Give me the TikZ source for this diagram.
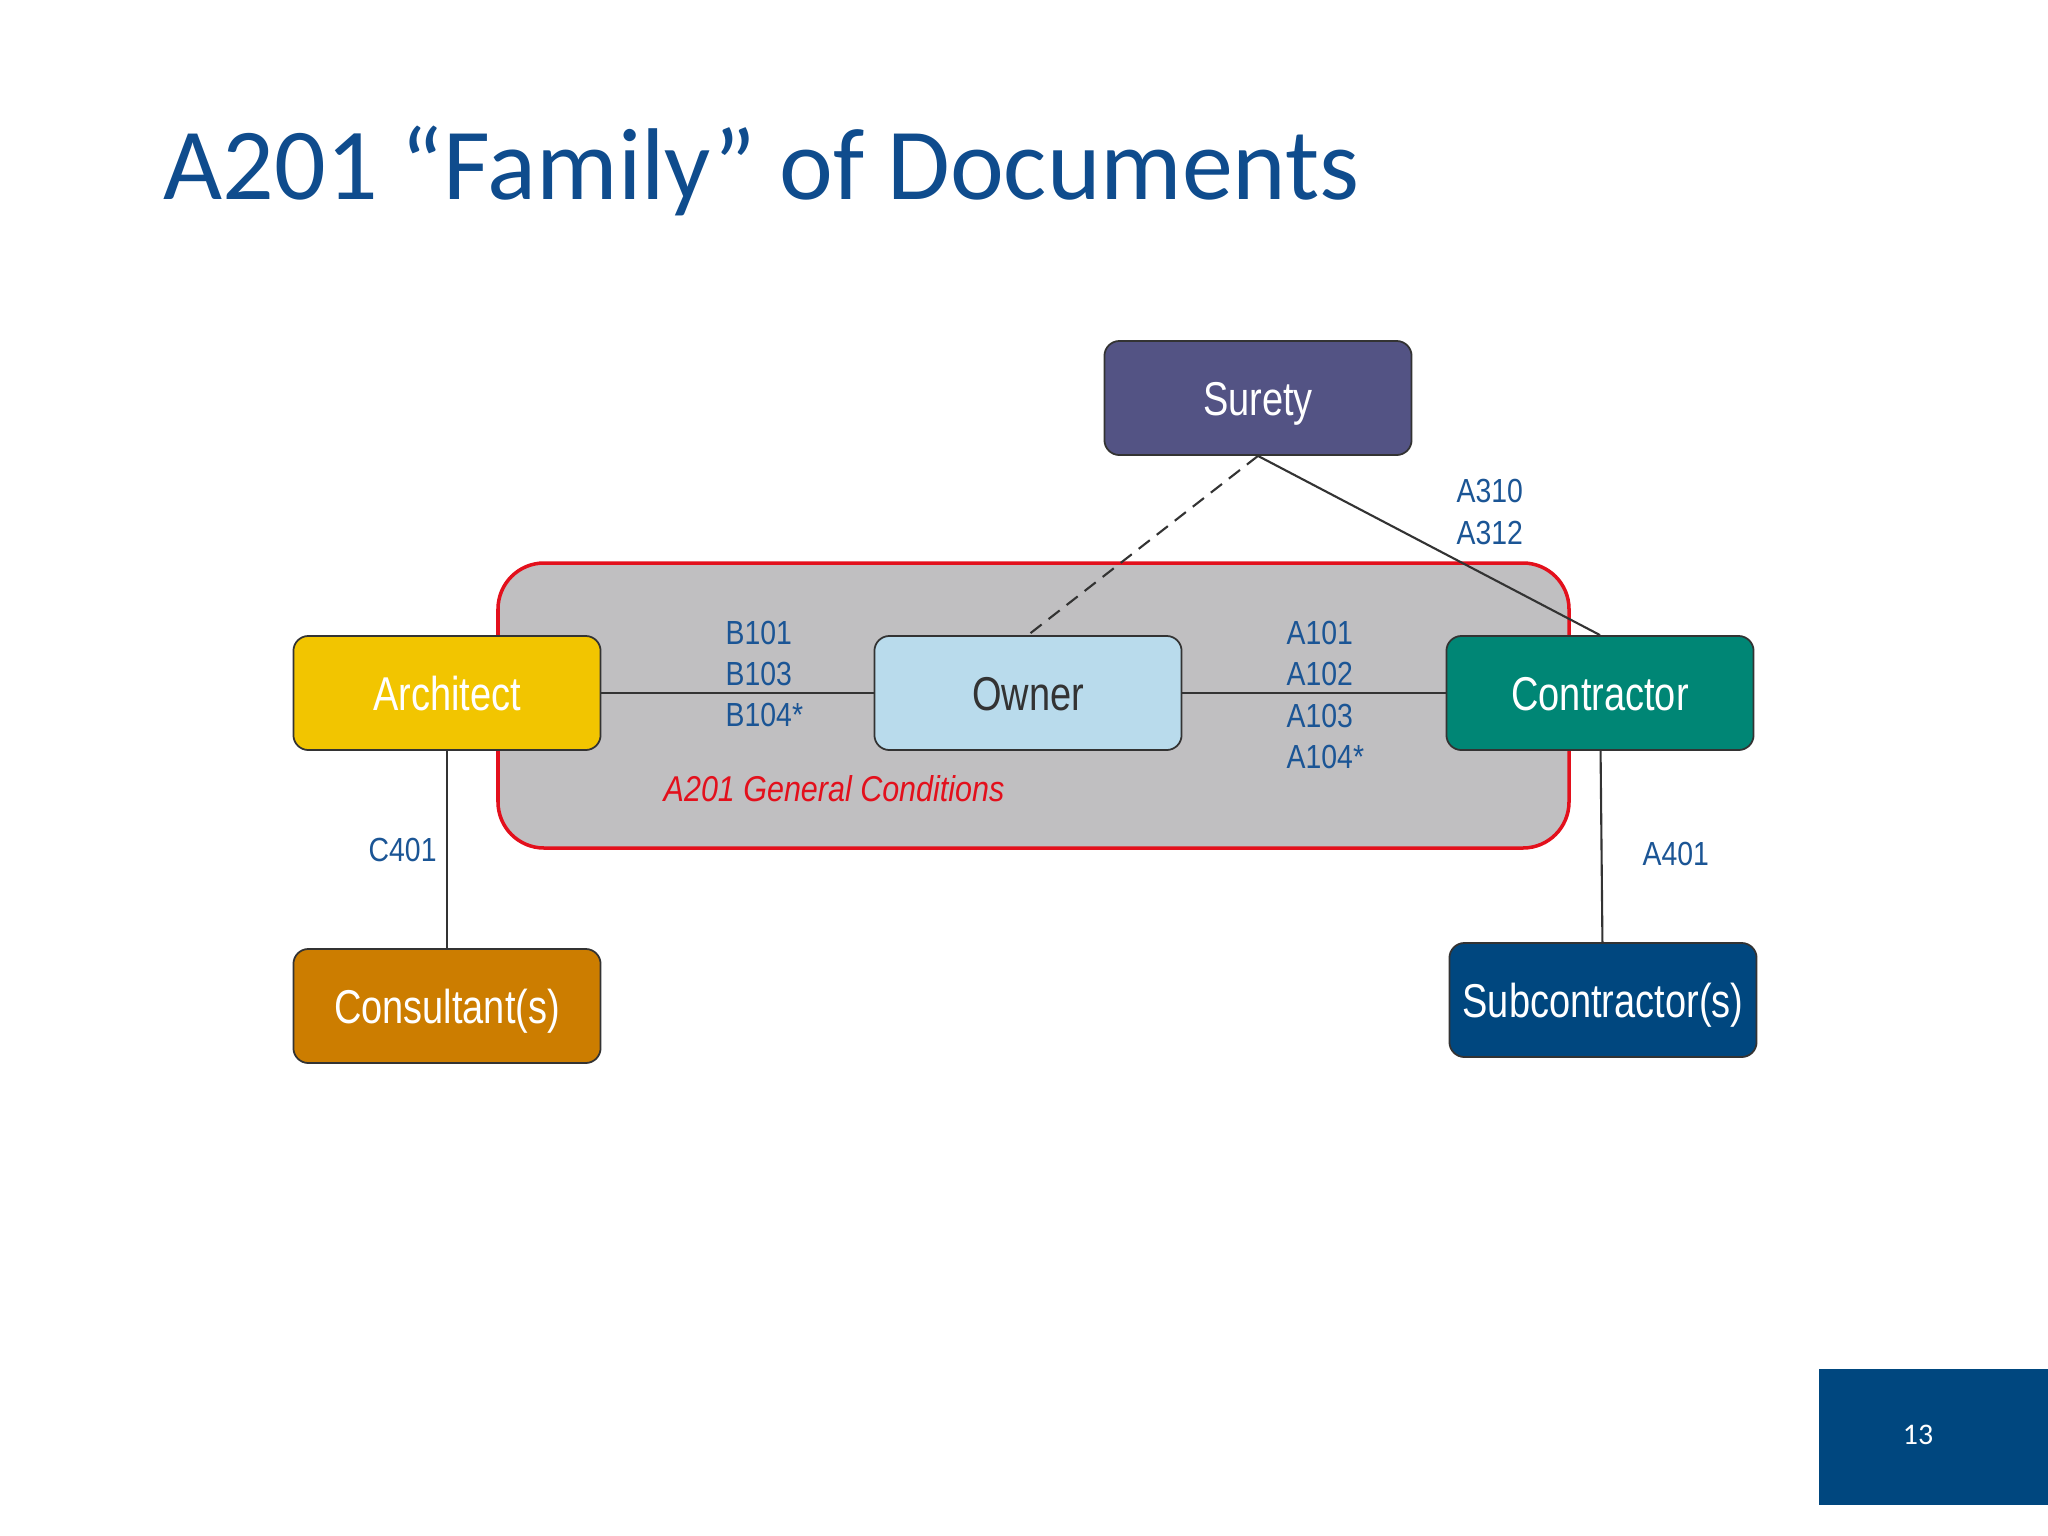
\documentclass[tikz,border=0pt]{standalone}
\usepackage{fontspec}
\setmainfont{Carlito}
\newfontfamily\narrowfont[FakeStretch=0.85]{Liberation Sans}
\newfontfamily\boxfont[FakeStretch=0.8]{Liberation Sans}
\usepackage{xcolor}
\usepackage{tikz}
\usetikzlibrary{positioning}

\definecolor{titleblue}{HTML}{0F4C8D}
\definecolor{labelblue}{HTML}{1B5595}
\definecolor{suretycol}{HTML}{535384}
\definecolor{architectcol}{HTML}{F2C500}
\definecolor{ownercol}{HTML}{B9DBEC}
\definecolor{contractorcol}{HTML}{008675}
\definecolor{consultantcol}{HTML}{CC7D00}
\definecolor{subcol}{HTML}{00477F}
\definecolor{regiongrey}{HTML}{C0BFC1}
\definecolor{regionred}{HTML}{E3101C}
\definecolor{boxline}{HTML}{333333}

\tikzset{
  party/.style={draw=boxline, line width=0.5pt, rounded corners=0.15cm,
    minimum width=3.07cm, minimum height=1.14cm, inner sep=0pt,
    text height=9.7pt, text depth=0pt, text=white,
    font=\boxfont\fontsize{13.5}{16}\selectfont},
  doclabel/.style={text=labelblue, anchor=west, align=left, inner sep=0pt,
    font=\narrowfont\fontsize{9.5}{11.7}\selectfont},
  link/.style={draw=boxline, line width=0.6pt},
}

\begin{document}
\begin{tikzpicture}[x=0.01cm, y=-0.01cm]
    \useasboundingbox[fill=white] (0,0) rectangle (2048,1536);

    % Title
    \node[anchor=base west, inner sep=0pt, text=titleblue, font=\fontsize{29}{34}\selectfont]
        (title) at (163,199) {A201 “Family” of Documents};

    % General conditions region
    \draw[fill=regiongrey, draw=regionred, line width=1pt, rounded corners=0.46cm]
        (498,563) rectangle (1569,848);
    \node[anchor=west, inner sep=0pt, text=regionred,
        font=\narrowfont\itshape\fontsize{10.2}{12}\selectfont]
        (conditions) at (663,789) {A201 General Conditions};

    % Parties
    \node[party, fill=suretycol] (surety) at (1258,398) {Surety};
    \node[party, fill=architectcol] (architect) at (447,693) {Architect};
    \node[party, fill=ownercol, text=boxline] (owner) at (1028,693) {Owner};
    \node[party, fill=contractorcol] (contractor) at (1600,693) {Contractor};
    \node[party, fill=consultantcol] (consultant) at (447,1006) {Consultant(s)};
    \node[party, fill=subcol] (sub) at (1603,1000) {Subcontractor(s)};

    % Agreements
    \draw[link] (architect) -- (owner);
    \draw[link] (owner) -- (contractor);
    \draw[link, dash pattern=on 4pt off 2.5pt] (surety.south) -- (owner.north);
    \draw[link] (surety.south) -- (contractor.north);
    \draw[link] (architect) -- (consultant);
    \draw[link] (contractor) -- (sub);

    % Document labels
    \node[doclabel] (bdocs) at (725,674) {B101\\B103\\B104*};
    \node[doclabel] (adocs) at (1286,695) {A101\\A102\\A103\\A104*};
    \node[doclabel] (bonds) at (1456,512) {A310\\A312};
    \node[doclabel] (cdoc) at (368,850) {C401};
    \node[doclabel] (subdoc) at (1642,854) {A401};

    % Page number
    \node[fill=subcol, minimum width=2.29cm, minimum height=1.36cm, inner sep=0pt]
        (pagebox) at (1933.5,1437) {};
    \node[text=white, inner sep=0pt, font=\fontsize{8.5}{10}\selectfont]
        (pagenum) at (1918,1435) {13};

\end{tikzpicture}
\end{document}
